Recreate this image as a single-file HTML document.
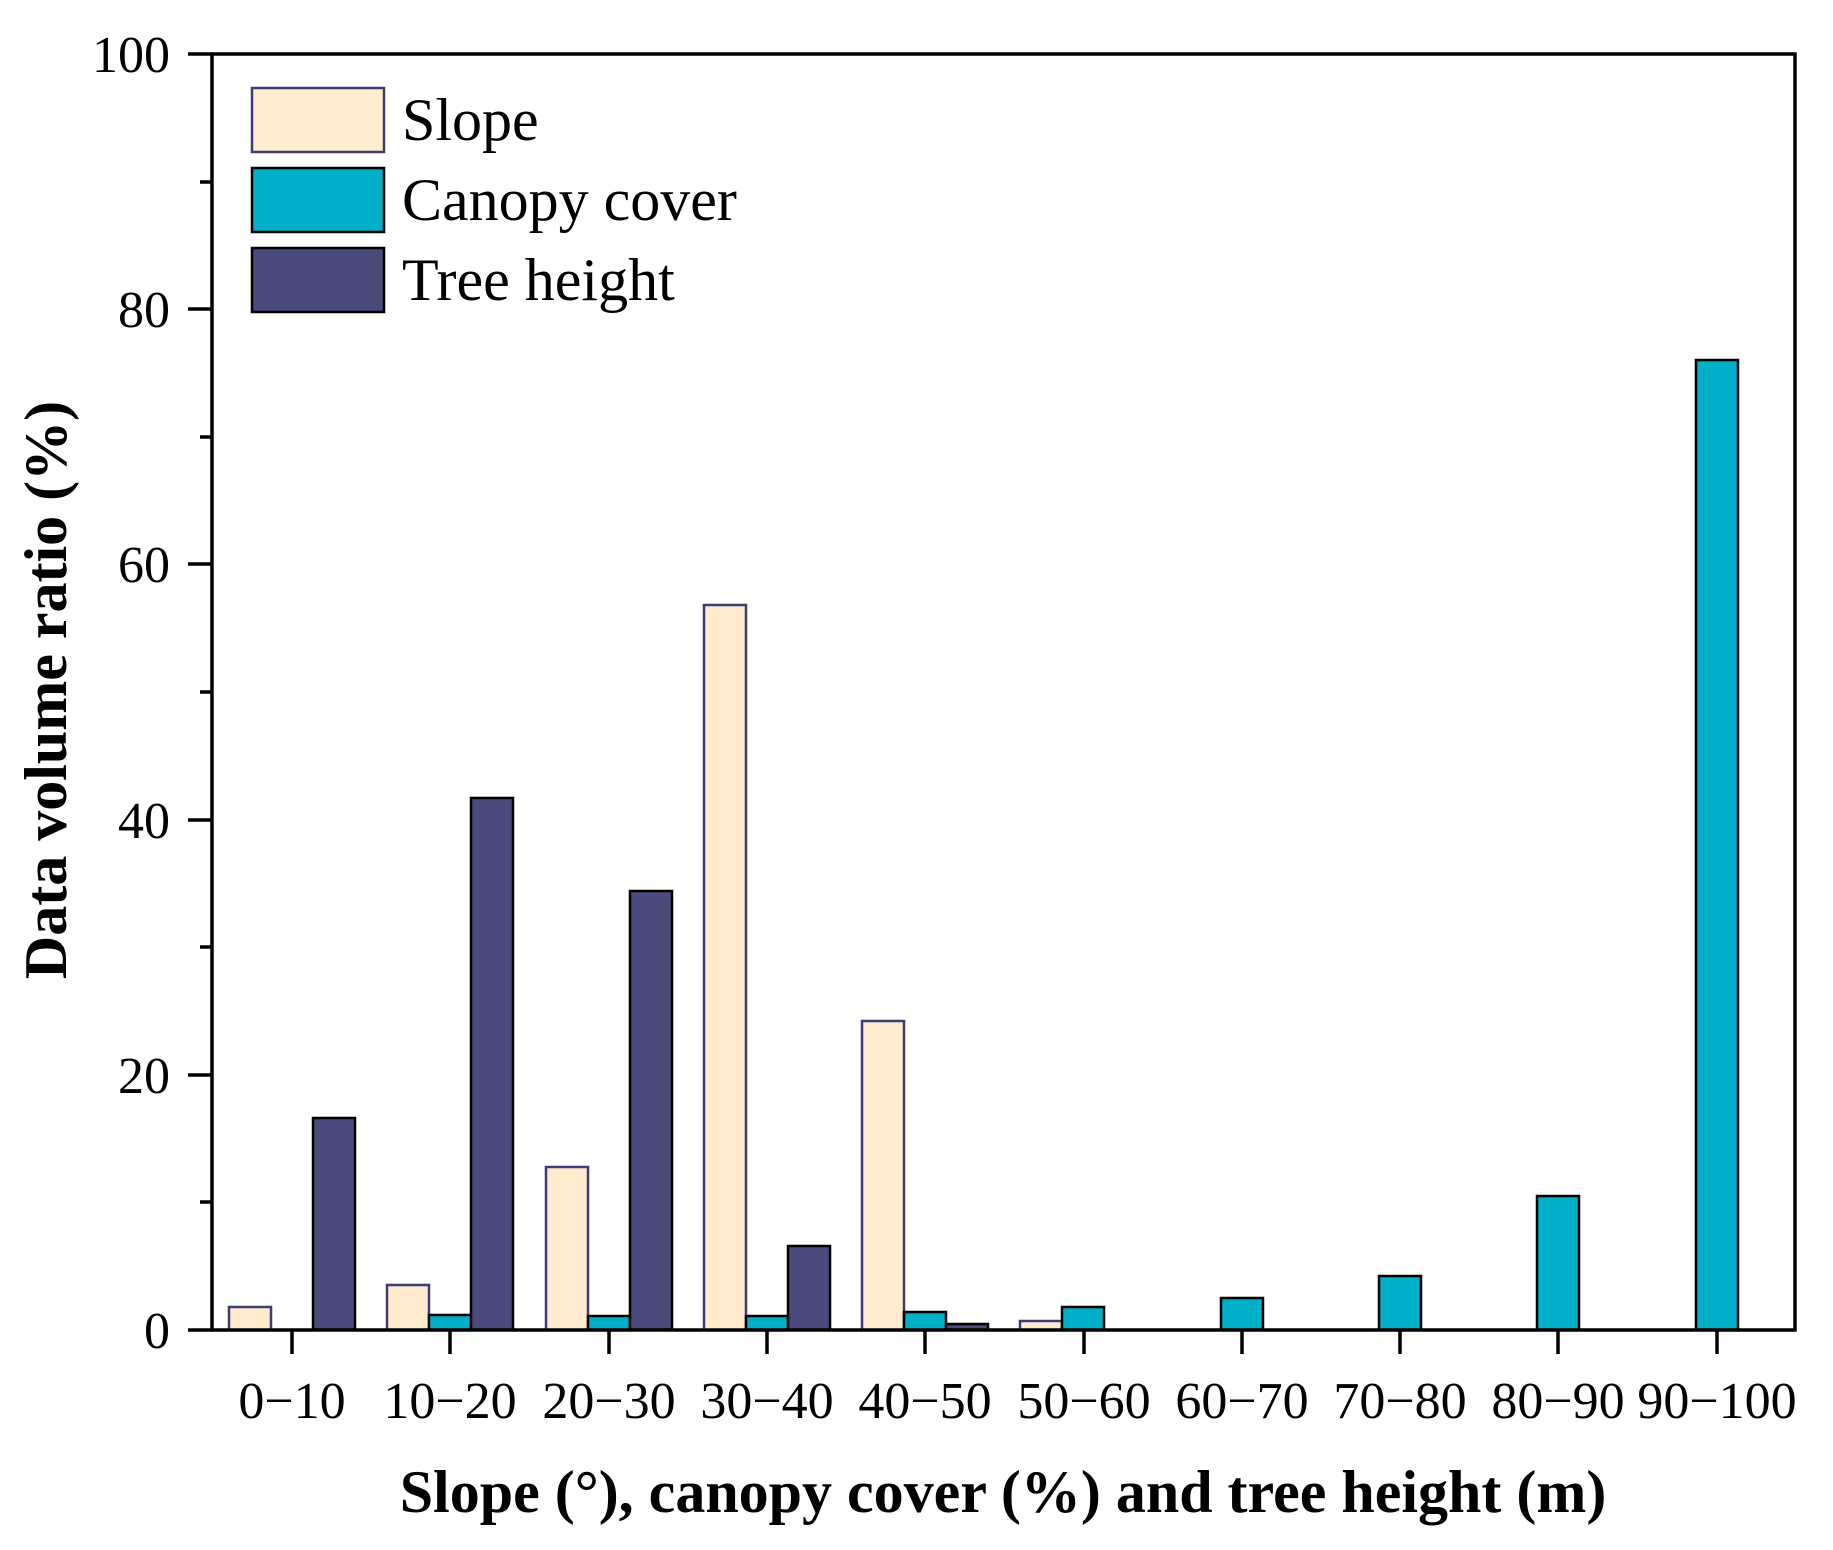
<!DOCTYPE html>
<html><head><meta charset="utf-8"><style>html,body{margin:0;padding:0;background:#fff}</style></head>
<body>
<svg width="1833" height="1545" viewBox="0 0 1833 1545" xmlns="http://www.w3.org/2000/svg" font-family="Liberation Serif, serif">
<g stroke-width="2.5">
<g fill="#ffebcd" stroke="#3c3c78">
<rect x="229" y="1307" width="42" height="23"/>
<rect x="387" y="1285" width="42" height="45"/>
<rect x="546" y="1167" width="42" height="163"/>
<rect x="704" y="605" width="42" height="725"/>
<rect x="862" y="1021" width="42" height="309"/>
<rect x="1020" y="1321" width="42" height="9"/>
</g>
<g fill="#00b0c8" stroke="#000">
<rect x="429" y="1315" width="42" height="15"/>
<rect x="588" y="1316" width="42" height="14"/>
<rect x="746" y="1316" width="42" height="14"/>
<rect x="904" y="1312" width="42" height="18"/>
<rect x="1062" y="1307" width="42" height="23"/>
<rect x="1221" y="1298" width="42" height="32"/>
<rect x="1379" y="1276" width="42" height="54"/>
<rect x="1537" y="1196" width="42" height="134"/>
<rect x="1696" y="360" width="42" height="970"/>
</g>
<g fill="#4a4a7c" stroke="#000">
<rect x="313" y="1118" width="42" height="212"/>
<rect x="471" y="798" width="42" height="532"/>
<rect x="630" y="891" width="42" height="439"/>
<rect x="788" y="1246" width="42" height="84"/>
<rect x="946" y="1324" width="42" height="6"/>
</g>
</g>
<g stroke="#000" stroke-width="3.5" fill="none">
<rect x="212" y="54" width="1583" height="1276"/>
<path d="M188 54H212M188 309H212M188 564H212M188 820H212M188 1075H212M188 1330H212"/>
<path d="M200 182H212M200 437H212M200 692H212M200 947H212M200 1202H212"/>
<path d="M292 1330v24M450 1330v24M609 1330v24M767 1330v24M925 1330v24M1084 1330v24M1242 1330v24M1400 1330v24M1558 1330v24M1717 1330v24"/>
</g>
<g font-size="52" text-anchor="end">
<text x="170" y="72">100</text>
<text x="170" y="327">80</text>
<text x="170" y="582">60</text>
<text x="170" y="838">40</text>
<text x="170" y="1093">20</text>
<text x="170" y="1348">0</text>
</g>
<g font-size="52" text-anchor="middle">
<text x="292" y="1418">0−10</text>
<text x="450" y="1418">10−20</text>
<text x="609" y="1418">20−30</text>
<text x="767" y="1418">30−40</text>
<text x="925" y="1418">40−50</text>
<text x="1084" y="1418">50−60</text>
<text x="1242" y="1418">60−70</text>
<text x="1400" y="1418">70−80</text>
<text x="1558" y="1418">80−90</text>
<text x="1717" y="1418">90−100</text>
</g>
<text x="1003" y="1512" font-size="60" font-weight="bold" text-anchor="middle">Slope (°), canopy cover (%) and tree height (m)</text>
<text transform="translate(66,690) rotate(-90)" font-size="60" font-weight="bold" text-anchor="middle">Data volume ratio (%)</text>
<g stroke-width="2.5">
<rect x="252" y="88" width="132" height="64" fill="#ffebcd" stroke="#3c3c78"/>
<rect x="252" y="168" width="132" height="64" fill="#00b0c8" stroke="#000"/>
<rect x="252" y="248" width="132" height="64" fill="#4a4a7c" stroke="#000"/>
</g>
<g font-size="60">
<text x="402" y="140">Slope</text>
<text x="402" y="220">Canopy cover</text>
<text x="402" y="300">Tree height</text>
</g>
</svg>
</body></html>
